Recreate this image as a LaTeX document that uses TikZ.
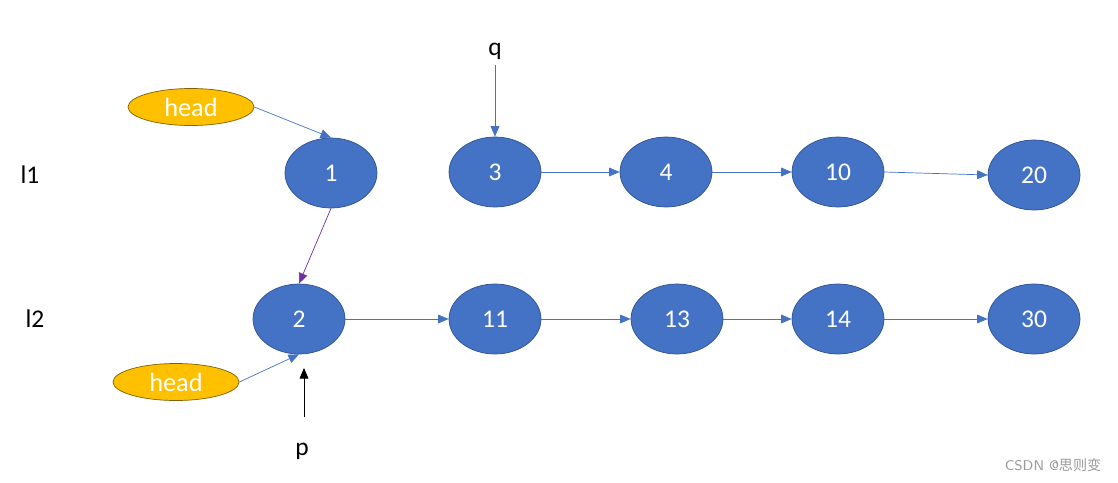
\documentclass[tikz,border=0pt]{standalone}
\usepackage{fontspec}
\setmainfont{Carlito}
\newfontfamily\cjkfont{Noto Sans CJK SC}
\usetikzlibrary{arrows.meta, shapes.geometric}
\definecolor{nodeblue}{HTML}{4472C4}
\definecolor{nodeedge}{HTML}{2F528F}
\definecolor{headfill}{HTML}{FFC000}
\definecolor{headedge}{HTML}{7F6000}
\definecolor{linkpurple}{HTML}{7030A0}
\tikzset{
  listnode/.style={ellipse, draw=nodeedge, fill=nodeblue, text=white, minimum width=1.84cm, minimum height=1.4cm, inner sep=0pt, font=\fontsize{14.5}{16}\selectfont},
  headnode/.style={ellipse, draw=headedge, fill=headfill, text=white, minimum width=2.52cm, minimum height=0.74cm, inner sep=0pt, font=\fontsize{15}{16}\selectfont},
  ptrlabel/.style={font=\fontsize{14.5}{16}\selectfont},
  link/.style={draw=nodeblue, -{Triangle[length=6pt,width=5pt]}},
}
\begin{document}
\begin{tikzpicture}[x=0.02cm, y=-0.02cm]
            \useasboundingbox (0, 0) rectangle (1118, 483);
            % list l1
            \node[listnode] (n1) at (331, 173) {1};
            \node[listnode] (n3) at (495, 172) {3};
            \node[listnode] (n4) at (666, 172) {4};
            \node[listnode] (n10) at (838, 172) {10};
            \node[listnode] (n20) at (1034, 175) {20};
            % list l2
            \node[listnode] (n2) at (299, 319) {2};
            \node[listnode] (n11) at (495, 319) {11};
            \node[listnode] (n13) at (677, 319) {13};
            \node[listnode] (n14) at (838, 319) {14};
            \node[listnode] (n30) at (1034, 319) {30};
            % heads and pointers
            \node[headnode] (h1) at (191, 107) {head};
            \node[headnode] (h2) at (176, 382) {head};
            \node[ptrlabel] (l1) at (30, 175) {l1};
            \node[ptrlabel] (l2) at (35, 319) {l2};
            \node[ptrlabel] (q) at (495, 51) {q};
            \node[ptrlabel] (p) at (302, 451) {p};
            \coordinate (qend) at (495, 65);
            \coordinate (pend) at (304, 417);
            \coordinate (ptip) at (304, 368);
            \draw[link] (h1.east) -- (n1.north);
            \draw[link] (h2.east) -- (n2.south);
            \draw[link, draw=linkpurple] (n1.south) -- (n2.north);
            \draw[link] (qend) -- (n3.north);
            \draw[-{Triangle[length=6pt,width=5pt]}] (pend) -- (ptip);
            \draw[link] (n3) -- (n4);
            \draw[link] (n4) -- (n10);
            \draw[link] (n10.east) -- (n20.west);
            \draw[link] (n2) -- (n11);
            \draw[link] (n11) -- (n13);
            \draw[link] (n13) -- (n14);
            \draw[link] (n14) -- (n30);
            \node[text=gray!80, font=\fontsize{8}{9}\selectfont] (mark) at (1053, 465) {\sffamily CSDN @\cjkfont 思则变};
        \end{tikzpicture}
\end{document}
